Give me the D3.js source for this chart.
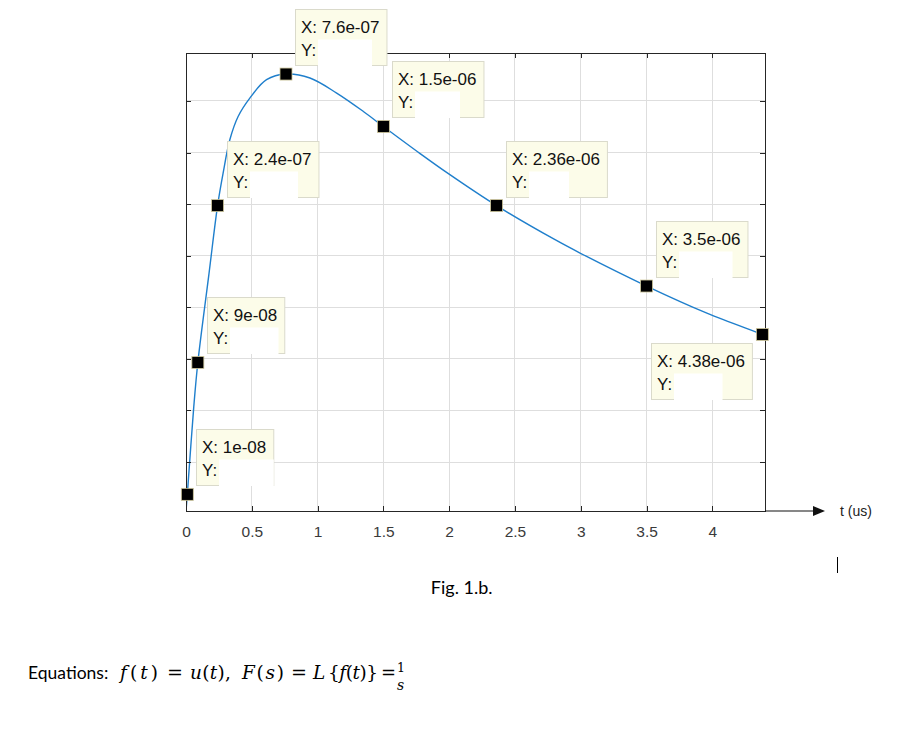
<!DOCTYPE html>
<html><head><meta charset="utf-8">
<script src="https://cdn.jsdelivr.net/npm/d3@7"></script>
<style>body{margin:0;background:#fff} svg{display:block}</style>
</head><body>
<script>
// ---- data ----
const curveT = [0, 0.01, 0.059, 0.09, 0.175, 0.24, 0.282, 0.333, 0.396, 0.485, 0.612, 0.76, 0.942, 1.145, 1.348, 1.5, 1.779, 1.983, 2.36, 2.808, 2.998, 3.5, 3.963, 4.38, 4.4];
const curveY = [0.05, 0.373, 2.068, 2.93, 4.658, 5.971, 6.6, 7.247, 7.699, 8.056, 8.412, 8.522, 8.445, 8.153, 7.796, 7.505, 6.98, 6.61, 5.971, 5.305, 5.047, 4.412, 3.882, 3.474, 3.45];
const tipX = [1e-08, 9e-08, 2.4e-07, 7.6e-07, 1.5e-06, 2.36e-06, 3.5e-06, 4.38e-06];
const tipY = [0.373, 2.93, 5.971, 8.522, 7.505, 5.971, 4.412, 3.474];
const tipSide = ["ne", "ne", "ne", "ne", "ne", "ne", "ne", "sw"];
const xTicks = [0, 0.5, 1, 1.5, 2, 2.5, 3, 3.5, 4];
const xTickLabels = ["0", "0.5", "1", "1.5", "2", "2.5", "3", "3.5", "4"];
const yTicks = [1, 2, 3, 4, 5, 6, 7, 8];
const xDomain = [0, 4.4];
const yDomain = [0.05, 8.93];
const xAxisLabel = "t (us)";
const caption = "Fig. 1.b.";

// ---- layout (not data) ----
const tipMaskW = [56, 48.5, 48, 54, 45, 40, 53.5, 48.5];
const W = 910, H = 731;
const L = 186, R = 765, T = 53, B = 511;

const svg = d3.select("body").append("svg").attr("width", W).attr("height", H);
const x = d3.scaleLinear().domain(xDomain).range([L, R]);
const y = d3.scaleLinear().domain(yDomain).range([B, T]);

svg.append("rect").attr("x", L).attr("y", T).attr("width", R - L).attr("height", B - T).attr("fill", "#fff");

// grid
const grid = svg.append("g").attr("stroke", "#dedede").attr("stroke-width", 1).attr("shape-rendering", "crispEdges");
grid.selectAll("line.gx").data(xTicks.filter(d => d > xDomain[0])).join("line")
  .attr("x1", d => x(d)).attr("x2", d => x(d)).attr("y1", T).attr("y2", B);
grid.selectAll("line.gy").data(yTicks).join("line")
  .attr("x1", L).attr("x2", R).attr("y1", d => y(d)).attr("y2", d => y(d));

// curve
svg.append("clipPath").attr("id", "clip").append("rect").attr("x", L).attr("y", T).attr("width", R - L).attr("height", B - T);
const pts = curveT.map((t, i) => [t, curveY[i]]);
svg.append("path").datum(pts).attr("clip-path", "url(#clip)")
  .attr("fill", "none").attr("stroke", "#1f7fcc").attr("stroke-width", 1.4)
  .attr("d", d3.line().x(d => x(d[0])).y(d => y(d[1])).curve(d3.curveCatmullRom.alpha(0.5)));

// axes
const axColor = "#262626";
const gB = svg.append("g").attr("transform", `translate(0,${B})`)
  .call(d3.axisBottom(x).tickValues(xTicks).tickSize(-5).tickPadding(15).tickFormat((d, i) => xTickLabels[i]));
const gT = svg.append("g").attr("transform", `translate(0,${T})`)
  .call(d3.axisTop(x).tickValues(xTicks).tickSize(-5).tickFormat(""));
const gL = svg.append("g").attr("transform", `translate(${L},0)`)
  .call(d3.axisLeft(y).tickValues(yTicks).tickSize(-5).tickFormat(""));
const gR = svg.append("g").attr("transform", `translate(${R},0)`)
  .call(d3.axisRight(y).tickValues(yTicks).tickSize(-5).tickFormat(""));
[gB, gT, gL, gR].forEach(g => {
  g.select(".domain").remove();
  g.selectAll("line").attr("stroke", axColor).attr("shape-rendering", "crispEdges");
});
gB.selectAll("text").attr("font-family", "Liberation Sans, Arial, sans-serif").attr("font-size", 15.5).attr("fill", "#3a3a3a");
svg.append("rect").attr("x", L).attr("y", T).attr("width", R - L).attr("height", B - T)
  .attr("fill", "none").attr("stroke", axColor).attr("stroke-width", 1).attr("shape-rendering", "crispEdges");

// arrow extending the time axis
svg.append("line").attr("x1", R).attr("x2", R + 49).attr("y1", y(yDomain[0])).attr("y2", y(yDomain[0]))
  .attr("stroke", "#111").attr("stroke-width", 1.2);
svg.append("path").attr("d", `M${R + 48},${B - 5} L${R + 60},${B} L${R + 48},${B + 5} Z`).attr("fill", "#111");
svg.append("text").attr("x", R + 75).attr("y", B + 5).text(xAxisLabel)
  .attr("font-family", "Liberation Sans, Arial, sans-serif").attr("font-size", 14).attr("fill", "#222");
// text cursor bar
svg.append("line").attr("x1", 837.5).attr("x2", 837.5).attr("y1", 557).attr("y2", 573).attr("stroke", "#000").attr("stroke-width", 1);

// data tips
function fmtG(v) {
  let s = v.toExponential();
  let [m, e] = s.split("e");
  const sign = e[0] === "-" ? "-" : "+";
  e = e.replace(/^[+-]/, "");
  if (e.length < 2) e = "0" + e;
  return m + "e" + sign + e;
}
const tipsG = svg.append("g");
tipX.forEach((tx, i) => {
  const mx = x(tx * 1e6), my = y(tipY[i]);
  const g = tipsG.append("g");
  const rect = g.append("rect");
  const t1 = g.append("text").text("X: " + fmtG(tx))
    .attr("font-family", "Liberation Sans, Arial, sans-serif").attr("font-size", 17).attr("fill", "#111");
  const tw = t1.node().getComputedTextLength();
  const w = tw + 13, h = 56;
  let bx, by;
  if (tipSide[i] === "ne") { bx = mx + 9; by = my - 9 - h; }
  else { bx = mx - 10 - w; by = my + 9; }
  bx = Math.round(bx) + 0.5; by = Math.round(by) + 0.5;
  rect.attr("x", bx).attr("y", by).attr("width", w).attr("height", h)
    .attr("fill", "#fcfce9").attr("stroke", "#dadacb").attr("stroke-width", 1);
  t1.attr("x", bx + 5.5).attr("y", by + 23.5);
  g.append("text").text("Y:").attr("x", bx + 5.5).attr("y", by + 46.5)
    .attr("font-family", "Liberation Sans, Arial, sans-serif").attr("font-size", 17).attr("fill", "#111");
  g.append("rect").attr("x", bx + 22.5).attr("y", by + 30).attr("width", Math.min(tipMaskW[i], w - 22.5)).attr("height", h - 29.5)
    .attr("fill", "#fff");
  // marker
  tipsG.append("rect").attr("x", mx - 6).attr("y", my - 6).attr("width", 12).attr("height", 12)
    .attr("fill", "#000").attr("stroke", "#cfc89c").attr("stroke-width", 0.8);
});

// caption
svg.append("text").attr("x", 461.7).attr("y", 594.3).attr("text-anchor", "middle").text(caption)
  .attr("font-family", "Lato, 'Open Sans', sans-serif").attr("font-size", 18).attr("fill", "#000");

// equation line
const eqBase = 678.5;
svg.append("text").attr("x", 28).attr("y", eqBase).text("Equations:")
  .attr("font-family", "Lato, 'Open Sans', sans-serif").attr("font-size", 17.5).attr("fill", "#000");
function mathGroup(x0, width, parts, size = 18.5, baseline = eqBase) {
  const t = svg.append("text").attr("x", x0).attr("y", baseline)
    .attr("font-family", "'DejaVu Serif', 'Liberation Serif', serif").attr("font-size", size).attr("fill", "#000");
  parts.forEach(p => {
    t.append("tspan").text(p[0]).attr("font-style", p[1] ? "italic" : "normal");
  });
  if (width) t.attr("textLength", width).attr("lengthAdjust", "spacing");
  return t;
}
mathGroup(120, 38, [["f", 1], ["(", 0], ["t", 1], [")", 0]]);
mathGroup(167, 16, [["=", 0]]).attr("lengthAdjust", "spacingAndGlyphs");
mathGroup(190, 41, [["u", 1], ["(", 0], ["t", 1], [")", 0], [",", 0]]);
mathGroup(242, 42, [["F", 1], ["(", 0], ["s", 1], [")", 0]]);
mathGroup(291, 16, [["=", 0]]).attr("lengthAdjust", "spacingAndGlyphs");
mathGroup(313, 12, [["L", 1]]);
mathGroup(328, 50, [["{", 0], ["f", 1], ["(", 0], ["t", 1], [")", 0], ["}", 0]]);
mathGroup(381, 15, [["=", 0]]).attr("lengthAdjust", "spacingAndGlyphs");
mathGroup(401, null, [["1", 0]], 12.5, 671.5).attr("text-anchor", "middle");
mathGroup(400.5, null, [["s", 1]], 14, 690).attr("text-anchor", "middle");
</script>
</body></html>
